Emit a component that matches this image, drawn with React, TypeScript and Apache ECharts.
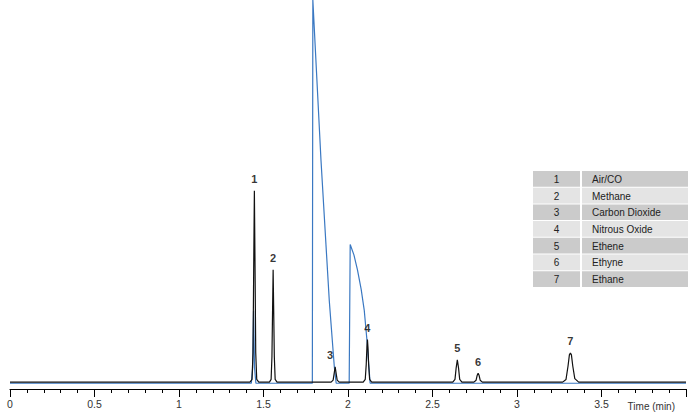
import * as echarts from 'echarts'
import React, { useEffect, useRef } from 'react'

const blackColor = '#111111'
const blueColor = '#3a78c2'

// chromatogram traces, [time (min), response]
const blackTrace: number[][] = [
  [0, 0.3],
  [1.42, 0.3], [1.432, 1], [1.438, 8], [1.442, 30], [1.446, 50.2], [1.45, 30], [1.454, 8], [1.46, 1], [1.472, 0.3],
  [1.535, 0.3], [1.545, 1], [1.55, 7], [1.554, 20], [1.557, 29.6], [1.56, 20], [1.564, 7], [1.569, 1], [1.58, 0.3],
  [1.9, 0.3], [1.912, 0.8], [1.918, 2.5], [1.924, 4.3], [1.93, 2.5], [1.936, 0.8], [1.948, 0.3],
  [2.09, 0.3], [2.102, 1], [2.108, 5], [2.112, 9.5], [2.115, 11.4], [2.118, 9.5], [2.122, 5], [2.128, 1], [2.14, 0.3],
  [2.62, 0.3], [2.633, 1], [2.64, 4], [2.647, 6.1], [2.654, 4], [2.661, 1], [2.674, 0.3],
  [2.745, 0.3], [2.758, 0.8], [2.764, 2], [2.77, 2.6], [2.776, 2], [2.782, 0.8], [2.795, 0.3],
  [3.27, 0.3], [3.29, 1], [3.302, 4.5], [3.31, 7.4], [3.316, 7.9], [3.322, 7.4], [3.33, 4.5], [3.342, 1.2], [3.365, 0.3],
  [4, 0.3],
]

const blueTrace: number[][] = [
  [0, 0],
  [1.428, 0], [1.436, 4], [1.441, 18.9], [1.447, 4], [1.455, 0],
  [1.789, 0], [1.792, 100], [1.84, 58.3], [1.889, 21.7], [1.919, 4.3], [1.93, 0],
  [2.007, 0], [2.013, 36.2], [2.035, 33.5], [2.056, 29.6], [2.078, 24.5], [2.096, 19.1], [2.112, 11.3], [2.131, 0],
  [4, 0],
]

// peak identification
const peakNumbers = ['1', '2', '3', '4', '5', '6', '7']
const peakNames = ['Air/CO', 'Methane', 'Carbon Dioxide', 'Nitrous Oxide', 'Ethene', 'Ethyne', 'Ethane']
const peakTimes = [1.446, 1.557, 1.924, 2.115, 2.647, 2.77, 3.316]
const peakHeights = [50.2, 29.6, 4.3, 11.4, 6.1, 2.6, 7.9]

const xTicks = [0, 0.5, 1, 1.5, 2, 2.5, 3, 3.5]

export default function App() {
  const chartRef = useRef<HTMLDivElement>(null)

  useEffect(() => {
    const chart = echarts.init(chartRef.current, null, { renderer: 'svg' })

    const rowH = 16.7
    const tableX = 533
    const tableY = 171
    const col1W = 47
    const col2W = 106

    const tableRows = peakNames.map((name, i) => ({
      type: 'group',
      y: i * rowH,
      children: [
        {
          type: 'rect',
          shape: { x: 0, y: 0, width: col1W, height: rowH - 1 },
          style: { fill: i % 2 === 0 ? '#cbcbcb' : '#e4e4e4' },
        },
        {
          type: 'rect',
          shape: { x: col1W + 2, y: 0, width: col2W, height: rowH - 1 },
          style: { fill: i % 2 === 0 ? '#cbcbcb' : '#e4e4e4' },
        },
        {
          type: 'text',
          x: col1W / 2,
          y: rowH / 2,
          style: {
            text: peakNumbers[i],
            fill: '#222',
            font: '10px "Liberation Sans"',
            align: 'center',
            verticalAlign: 'middle',
          },
        },
        {
          type: 'text',
          x: col1W + 12,
          y: rowH / 2,
          style: {
            text: name,
            fill: '#222',
            font: '10px "Liberation Sans"',
            align: 'left',
            verticalAlign: 'middle',
          },
        },
      ],
    }))

    const option = {
      animation: false,
      grid: { left: 10, right: 3, top: 0, bottom: 31 },
      xAxis: {
        type: 'value',
        min: 0,
        max: 4,
        interval: 0.5,
        axisLine: { show: true, onZero: false, lineStyle: { color: '#000', width: 1.2 } },
        axisTick: { show: true, inside: false, length: 8, lineStyle: { color: '#000' } },
        minorTick: { show: true, splitNumber: 5, length: 4, lineStyle: { color: '#000' } },
        splitLine: { show: false },
        axisLabel: {
          margin: 9,
          color: '#333',
          fontSize: 10.5,
          fontFamily: 'Liberation Sans',
          formatter: (v: number) => (xTicks.includes(v) ? String(v) : ''),
        },
      },
      yAxis: {
        type: 'value',
        min: -1.5,
        max: 100,
        show: false,
      },
      graphic: [
        {
          type: 'text',
          right: 14,
          top: 401,
          style: {
            text: 'Time (min)',
            fill: '#333',
            font: '10px "Liberation Sans"',
          },
        },
        {
          type: 'group',
          x: tableX,
          y: tableY,
          children: tableRows,
        },
      ],
      series: [
        {
          name: 'blue',
          type: 'line',
          data: blueTrace,
          symbol: 'none',
          lineStyle: { color: blueColor, width: 1.2 },
          z: 2,
        },
        {
          name: 'black',
          type: 'line',
          data: blackTrace,
          symbol: 'none',
          lineStyle: { color: blackColor, width: 1.2 },
          z: 3,
        },
        {
          name: 'labels',
          type: 'scatter',
          symbolSize: 0,
          data: peakTimes.map((t, i) => ({
            value: [t, peakHeights[i]],
            label: i === 2 ? { offset: [-5, 0] } : {},
          })),
          label: {
            show: true,
            position: 'top',
            distance: 6,
            formatter: (p: any) => peakNumbers[p.dataIndex],
            color: '#000',
            fontWeight: 'bold',
            fontSize: 11,
            fontFamily: 'Liberation Sans',
          },
          z: 4,
        },
      ],
    }

    chart.setOption(option)

    return () => {
      chart.dispose()
    }
  }, [])

  return (
    <div
      ref={chartRef}
      style={{ position: 'absolute', left: 0, top: 0, width: '689px', height: '420px', background: '#fff' }}
    />
  )
}
